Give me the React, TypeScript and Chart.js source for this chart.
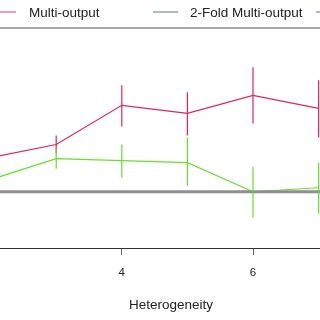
import React, { useEffect, useRef } from "react";
import { Chart, registerables } from "chart.js";
Chart.register(...registerables);

// Heterogeneity levels
const xValues = [2, 3, 4, 5, 6, 7];
// Multi-output (red)
const multiOutput = [0.9, 1.03, 1.42, 1.34, 1.52, 1.39];
const multiLow = [0.77, 0.94, 1.21, 1.12, 1.24, 1.1];
const multiHigh = [1.02, 1.12, 1.62, 1.55, 1.8, 1.67];
// Third series (green, legend entry cut off)
const greenSeries = [0.68, 0.89, 0.87, 0.85, 0.56, 0.6];
const greenLow = [0.58, 0.79, 0.7, 0.62, 0.3, 0.34];
const greenHigh = [0.78, 0.99, 1.03, 1.1, 0.81, 0.85];
// 2-Fold Multi-output (gray, constant reference)
const twoFoldX = [1, 8.5];
const twoFold = [0.56, 0.56];
const xTicks = [2, 4, 6, 8];
const legendLabels = ["Multi-output", "2-Fold Multi-output"];
const xTitle = "Heterogeneity";

const RED = "#e0245c";
const GREEN = "#6ade2c";
const GRAY = "#8e8e8e";
const OFFSET = 75;

export default function App() {
  const ref = useRef<HTMLCanvasElement>(null);
  useEffect(() => {
    if (!ref.current) return;
    const errorBars = {
      id: "errorBars",
      afterDatasetsDraw(chart: any) {
        const { ctx, chartArea, scales } = chart;
        ctx.save();
        ctx.beginPath();
        ctx.rect(chartArea.left, chartArea.top, chartArea.right - chartArea.left, chartArea.bottom - chartArea.top);
        ctx.clip();
        const sets = [
          { lo: multiLow, hi: multiHigh, c: RED },
          { lo: greenLow, hi: greenHigh, c: GREEN },
        ];
        ctx.lineWidth = 1.2;
        sets.forEach((s) => {
          ctx.strokeStyle = s.c;
          xValues.forEach((x, i) => {
            const px = scales.x.getPixelForValue(x);
            ctx.beginPath();
            ctx.moveTo(px, scales.y.getPixelForValue(s.lo[i]));
            ctx.lineTo(px, scales.y.getPixelForValue(s.hi[i]));
            ctx.stroke();
          });
        });
        ctx.restore();
      },
    };
    const frame = {
      id: "frame",
      afterDraw(chart: any) {
        const { ctx, chartArea } = chart;
        ctx.save();
        ctx.strokeStyle = "#8a8a8a";
        ctx.lineWidth = 1.5;
        ctx.beginPath();
        ctx.moveTo(chartArea.left, chartArea.top);
        ctx.lineTo(chartArea.right, chartArea.top);
        ctx.stroke();
        // legend
        const y = 12;
        ctx.lineWidth = 1.2;
        ctx.font = "13.5px 'Liberation Sans', Arial, sans-serif";
        ctx.textBaseline = "middle";
        ctx.fillStyle = "#222";
        ctx.strokeStyle = "#e8588a";
        ctx.beginPath();
        ctx.moveTo(OFFSET - 10, y);
        ctx.lineTo(OFFSET + 16, y);
        ctx.stroke();
        ctx.fillText(legendLabels[0], OFFSET + 29, y + 1);
        ctx.strokeStyle = "#7f8a90";
        ctx.beginPath();
        ctx.moveTo(OFFSET + 153, y);
        ctx.lineTo(OFFSET + 178, y);
        ctx.stroke();
        ctx.fillText(legendLabels[1], OFFSET + 190, y + 1);
        ctx.strokeStyle = "#7a7ac0";
        ctx.beginPath();
        ctx.moveTo(OFFSET + 316, y);
        ctx.lineTo(OFFSET + 340, y);
        ctx.stroke();
        ctx.restore();
      },
    };
    const chart = new Chart(ref.current, {
      type: "line",
      data: {
        datasets: [
          {
            label: "2-Fold Multi-output",
            data: twoFoldX.map((x, i) => ({ x, y: twoFold[i] })),
            borderColor: GRAY,
            borderWidth: 3,
            pointRadius: 0,
          },
          {
            label: "series3",
            data: xValues.map((x, i) => ({ x, y: greenSeries[i] })),
            borderColor: GREEN,
            borderWidth: 1.2,
            pointRadius: 0,
          },
          {
            label: "Multi-output",
            data: xValues.map((x, i) => ({ x, y: multiOutput[i] })),
            borderColor: RED,
            borderWidth: 1.2,
            pointRadius: 0,
          },
        ],
      },
      options: {
        animation: false,
        responsive: false,
        layout: { padding: { top: 28, left: 0, right: 0, bottom: 0 } },
        plugins: { legend: { display: false }, tooltip: { enabled: false } },
        scales: {
          x: {
            type: "linear",
            min: 1,
            max: 8.5,
            afterBuildTicks: (s: any) => {
              s.ticks = xTicks.map((v) => ({ value: v }));
            },
            grid: { drawOnChartArea: false, drawTicks: true, tickLength: 7, color: "#666" },
            border: { display: true, color: "#333", width: 1 },
            ticks: {
              padding: 11,
              color: "#222",
              font: { family: "'Liberation Sans', Arial, sans-serif", size: 11.5 },
            },
            title: {
              display: true,
              text: xTitle,
              color: "#222",
              font: { family: "'Liberation Sans', Arial, sans-serif", size: 13.5 },
              padding: { top: 6, bottom: 7 },
            },
          },
          y: { display: false, min: 0, max: 2.19 },
        },
      },
      plugins: [errorBars, frame],
    } as any);
    return () => chart.destroy();
  }, []);
  return (
    <div style={{ position: "fixed", left: 0, top: 0, width: 320, height: 320, overflow: "hidden", background: "#fff" }}>
      <div style={{ position: "absolute", left: -OFFSET, top: 0, width: 492, height: 320 }}>
        <canvas ref={ref} width={492} height={320} />
      </div>
    </div>
  );
}
